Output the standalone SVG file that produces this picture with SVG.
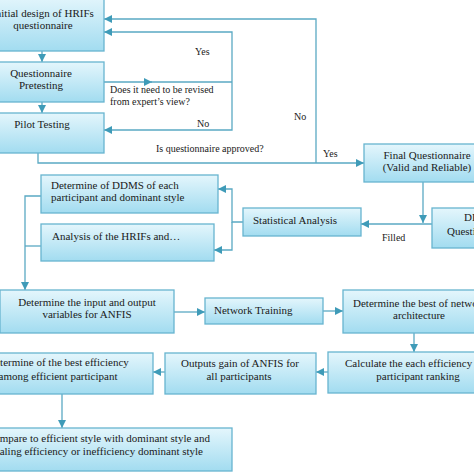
<svg xmlns="http://www.w3.org/2000/svg" width="474" height="474" viewBox="0 0 474 474">
<defs>
<linearGradient id="g" x1="0" y1="0" x2="0" y2="1">
<stop offset="0" stop-color="#e4f6fc"/>
<stop offset="1" stop-color="#a2dcf0"/>
</linearGradient>
<marker id="a" markerUnits="userSpaceOnUse" markerWidth="9" markerHeight="8" refX="8" refY="4" orient="auto">
<path d="M0,0 L8,4 L0,8 z" fill="#3f9bb8"/>
</marker>
</defs>
<style>
.box{fill:url(#g);stroke:#67b4cf;stroke-width:1.3}
.t{font-family:"Liberation Serif","Times New Roman",serif;font-size:11px;fill:#1a1a1a}
.l{font-family:"Liberation Serif","Times New Roman",serif;font-size:10px;fill:#1a1a1a}
.m{text-anchor:middle}
.e{text-anchor:end}
.c{fill:none;stroke:#5aa9c3;stroke-width:1.3}
</style>
<rect width="474" height="474" fill="#ffffff"/>
<g id="connectors">
<path class="c" d="M42,51 V62" marker-end="url(#a)"/>
<path class="c" d="M42,102 V113" marker-end="url(#a)"/>
<path class="c" d="M104,82 H152" marker-end="url(#a)"/>
<path class="c" d="M150,82 H232"/>
<path class="c" d="M232,82 V32 H104" marker-end="url(#a)"/>
<path class="c" d="M232,82 V130 H104" marker-end="url(#a)"/>
<path class="c" d="M38,153 V163 H364" marker-end="url(#a)"/>
<path class="c" d="M316,163 V19 H104" marker-end="url(#a)"/>
<path class="c" d="M423,182 V223" marker-end="url(#a)"/>
<path class="c" d="M432,224 H361" marker-end="url(#a)"/>
<path class="c" d="M243,222 H232 V189 H218" marker-end="url(#a)"/>
<path class="c" d="M232,222 V250 H214" marker-end="url(#a)"/>
<path class="c" d="M41,196 H25 V290" marker-end="url(#a)"/>
<path class="c" d="M41,246 H25"/>
<path class="c" d="M174,312 H205" marker-end="url(#a)"/>
<path class="c" d="M323,311 H343" marker-end="url(#a)"/>
<path class="c" d="M414,333 V352" marker-end="url(#a)"/>
<path class="c" d="M328,372 H316" marker-end="url(#a)"/>
<path class="c" d="M165,372 H153" marker-end="url(#a)"/>
<path class="c" d="M62,394 V428" marker-end="url(#a)"/>
<text class="l" x="195" y="55">Yes</text>
<text class="l" x="110" y="93">Does it need to be revised</text>
<text class="l" x="110" y="105">from expert’s view?</text>
<text class="l" x="197" y="127">No</text>
<text class="l" x="294" y="120">No</text>
<text class="l" x="156" y="152">Is questionnaire approved?</text>
<text class="l" x="323" y="157">Yes</text>
<text class="l" x="382" y="241">Filled</text>
</g>
<g id="initial">
<rect class="box" x="-20" y="-4" width="124" height="55"/>
<text class="t m" x="43" y="17">Initial design of HRIFs</text>
<text class="t m" x="43" y="29">questionnaire</text>
</g>
<g id="pretesting">
<rect class="box" x="-20" y="62" width="124" height="40"/>
<text class="t m" x="41" y="77">Questionnaire</text>
<text class="t m" x="41" y="89">Pretesting</text>
</g>
<g id="pilot">
<rect class="box" x="-20" y="113" width="124" height="40"/>
<text class="t m" x="42" y="128">Pilot Testing</text>
</g>
<g id="final-questionnaire">
<rect class="box" x="364" y="144" width="126" height="38"/>
<text class="t m" x="427" y="159">Final Questionnaire</text>
<text class="t m" x="427" y="171">(Valid and Reliable)</text>
</g>
<g id="ddms-questionnaire">
<rect class="box" x="432" y="208" width="100" height="40"/>
<text class="t" x="464" y="221">DDMS</text>
<text class="t" x="447" y="235">Questionnaire</text>
</g>
<g id="statistical">
<rect class="box" x="243" y="208" width="118" height="28"/>
<text class="t" x="253" y="224">Statistical Analysis</text>
</g>
<g id="ddms">
<rect class="box" x="41" y="175" width="177" height="38"/>
<text class="t" x="51" y="189">Determine of DDMS of each</text>
<text class="t" x="51" y="201">participant and dominant style</text>
</g>
<g id="analysis">
<rect class="box" x="41" y="224" width="173" height="37"/>
<text class="t" x="52" y="240">Analysis of the HRIFs and…</text>
</g>
<g id="input">
<rect class="box" x="0" y="290" width="174" height="43"/>
<text class="t m" x="87" y="306">Determine the input and output</text>
<text class="t m" x="87" y="318">variables for ANFIS</text>
</g>
<g id="network">
<rect class="box" x="205" y="298" width="118" height="26"/>
<text class="t" x="214" y="314">Network Training</text>
</g>
<g id="best-network">
<rect class="box" x="343" y="290" width="154" height="43"/>
<text class="t" x="353" y="307">Determine the best of network</text>
<text class="t m" x="419" y="319">architecture</text>
</g>
<g id="calculate">
<rect class="box" x="328" y="352" width="180" height="41"/>
<text class="t" x="345" y="367">Calculate the each efficiency</text>
<text class="t m" x="418" y="380">participant ranking</text>
</g>
<g id="outputs">
<rect class="box" x="165" y="353" width="151" height="41"/>
<text class="t m" x="240" y="367">Outputs gain of ANFIS for</text>
<text class="t m" x="239" y="380">all participants</text>
</g>
<g id="best-efficiency">
<rect class="box" x="-30" y="353" width="183" height="41"/>
<text class="t m" x="58" y="366">Determine of the best efficiency</text>
<text class="t m" x="58" y="380">among efficient participant</text>
</g>
<g id="compare">
<rect class="box" x="-30" y="428" width="262" height="43"/>
<text class="t e" x="210" y="442">Compare to efficient style with dominant style and</text>
<text class="t e" x="203" y="455">Revealing efficiency or inefficiency dominant style</text>
</g>
</svg>
